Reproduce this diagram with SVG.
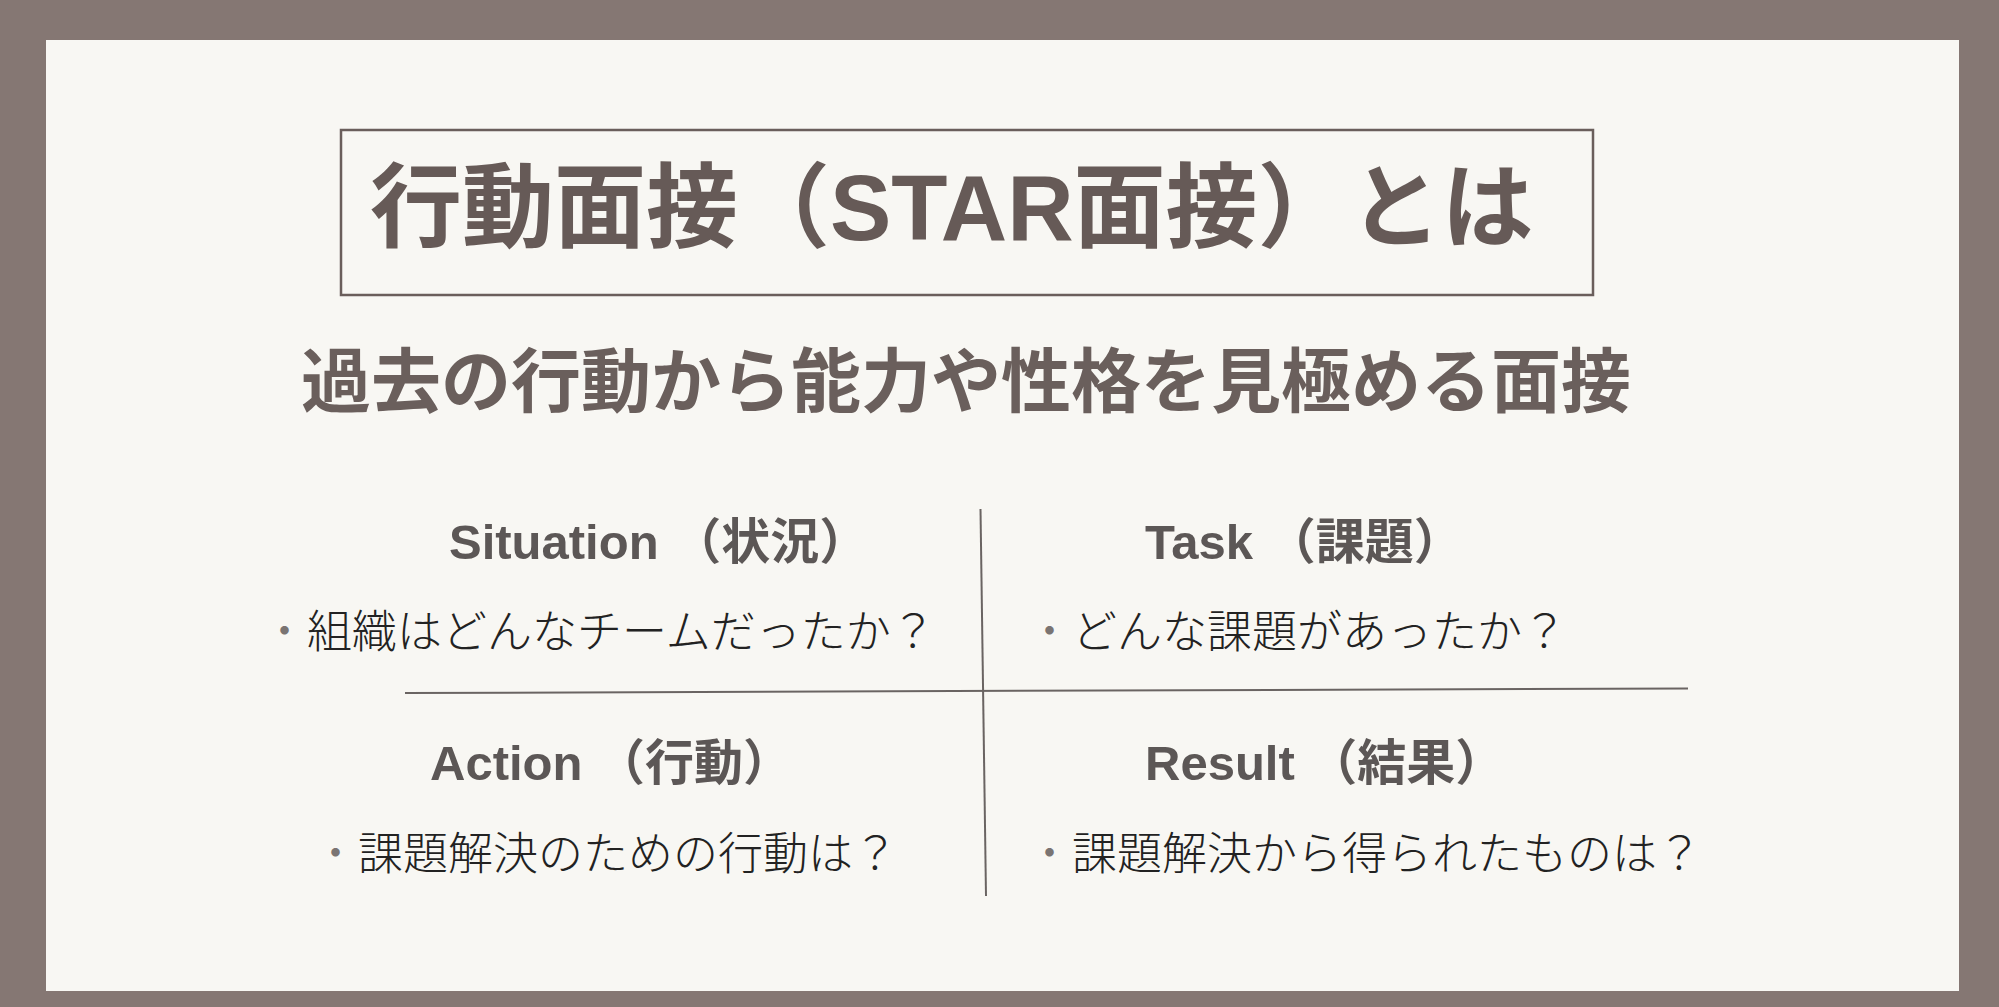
<svg xmlns="http://www.w3.org/2000/svg" width="1999" height="1007" viewBox="0 0 1999 1007">
<style>
.title{font-family:"Liberation Sans","Noto Sans CJK JP",sans-serif;font-weight:700;fill:#665a57}
.sub{font-family:"Noto Sans CJK JP",sans-serif;font-weight:700;fill:#6a5f5c}
.head{font-family:"Liberation Sans","Noto Sans CJK JP",sans-serif;font-weight:700;font-size:49px;fill:#5c5756}
.item{font-family:"Noto Sans CJK JP",sans-serif;font-weight:300;font-size:45px;fill:#222}
.dot{fill:#7a7472}
.ln{stroke:#6a6462;stroke-width:2;fill:none}
</style>
<rect x="0" y="0" width="1999" height="1007" fill="#857773"/>
<rect x="46" y="40" width="1913" height="951" fill="#f8f7f3"/>
<g id="title">
<rect x="341" y="130" width="1252" height="165" fill="none" stroke="#6a5e5b" stroke-width="2.5"/>
<text class="title" x="370" y="240" font-size="92">行動面接（STAR面接）とは</text>
</g>
<g id="subtitle">
<text class="sub" x="966" y="407" font-size="70" text-anchor="middle">過去の行動から能力や性格を見極める面接</text>
</g>
<g id="connectors">
<line class="ln" x1="980.5" y1="509" x2="986" y2="896"/>
<line class="ln" x1="405" y1="693" x2="1688" y2="688.5"/>
</g>
<g id="situation">
<text class="head" x="449" y="559">Situation （状況）</text>
<text class="item" x="262" y="648"><tspan class="dot">・</tspan>組織はどんなチームだったか？</text>
</g>
<g id="task">
<text class="head" x="1145" y="559">Task （課題）</text>
<text class="item" x="1027" y="648"><tspan class="dot">・</tspan>どんな課題があったか？</text>
</g>
<g id="action">
<text class="head" x="430" y="780">Action （行動）</text>
<text class="item" x="313" y="870"><tspan class="dot">・</tspan>課題解決のための行動は？</text>
</g>
<g id="result">
<text class="head" x="1145" y="780">Result （結果）</text>
<text class="item" x="1027" y="870"><tspan class="dot">・</tspan>課題解決から得られたものは？</text>
</g>
</svg>
